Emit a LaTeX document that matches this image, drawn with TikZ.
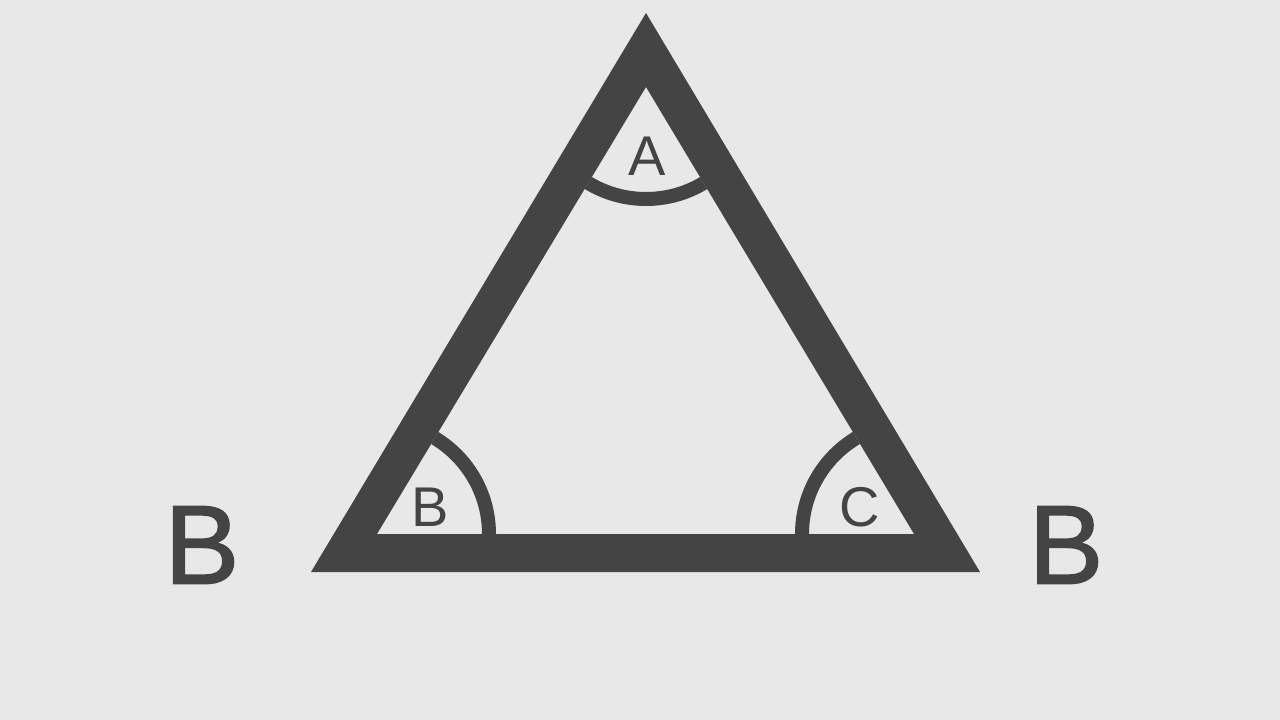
\documentclass[tikz,border=0pt]{standalone}
\usepackage{fontspec}
\setmainfont{Liberation Sans}
\newfontfamily\heavysans[FakeBold=1.5]{Liberation Sans}
\definecolor{bg}{HTML}{E8E8E8}
\definecolor{ink}{HTML}{444444}
\begin{document}
\begin{tikzpicture}[x=1pt,y=-1pt,
  biglabel/.style={text=ink,inner sep=0pt,font=\heavysans\fontsize{112}{112}\selectfont},
  anglabel/.style={text=ink,inner sep=0pt,font=\fontsize{56}{56}\selectfont},
  angarc/.style={draw=ink,line width=14pt}]
\fill[bg] (0,0) rectangle (1280,720);
\useasboundingbox (0,0) rectangle (1280,720);
% vertices
\coordinate (oT) at (646,13);
\coordinate (oL) at (311,572);
\coordinate (oR) at (980,572);
\coordinate (iT) at (646,87);
\coordinate (iL) at (377,534);
\coordinate (iR) at (914,534);
% triangle band
\fill[ink,even odd rule] (oL) -- (oT) -- (oR) -- cycle (iL) -- (iT) -- (iR) -- cycle;
% angle arcs
\begin{scope}
\clip (iL) -- (iT) -- (iR) -- cycle;
\draw[angarc] (iT) circle[radius=112];
\draw[angarc] (iL) circle[radius=112];
\draw[angarc] (iR) circle[radius=112];
\end{scope}
% labels
\node[anglabel] (la) at (647,156) {A};
\node[anglabel] (lb) at (430,507) {B};
\node[anglabel] (lc) at (860,507) {C};
\node[biglabel] (bl) at (202,545) {B};
\node[biglabel] (br) at (1066,545) {B};
\end{tikzpicture}
\end{document}
